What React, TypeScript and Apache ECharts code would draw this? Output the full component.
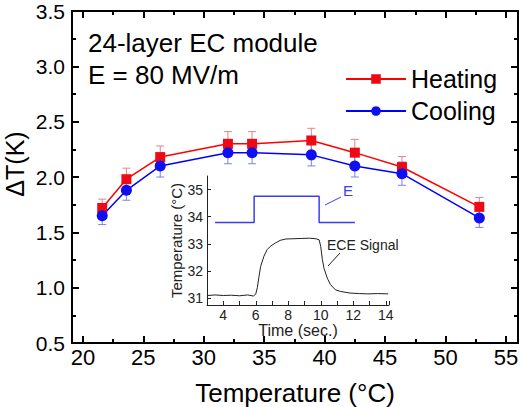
import React, { useEffect, useRef } from 'react';
import * as echarts from 'echarts';

// Main chart data
const temperatures = [21.6, 23.6, 26.4, 32.0, 34.0, 38.9, 42.5, 46.4, 52.8];
const heating = [1.72, 1.98, 2.18, 2.30, 2.30, 2.33, 2.22, 2.09, 1.73];
const heatingErr = [0.08, 0.1, 0.1, 0.11, 0.11, 0.11, 0.12, 0.095, 0.085];
const cooling = [1.65, 1.88, 2.1, 2.22, 2.22, 2.2, 2.1, 2.03, 1.63];
const coolingErr = [0.08, 0.09, 0.1, 0.1, 0.1, 0.1, 0.1, 0.105, 0.085];

// Inset data
const eceTime = [3.05, 3.5, 4.0, 4.5, 5.0, 5.5, 5.85, 6.0, 6.1, 6.2, 6.3, 6.5, 6.7, 6.9, 7.2, 7.5, 7.85, 8.3, 8.8, 9.3, 9.7, 9.9, 10.0, 10.1, 10.2, 10.4, 10.6, 10.9, 11.2, 11.8, 12.4, 12.9, 13.5, 14.15];
const eceTemp = [31.1, 31.12, 31.1, 31.11, 31.09, 31.12, 31.08, 31.15, 31.4, 31.8, 32.17, 32.54, 32.79, 32.91, 33.03, 33.13, 33.18, 33.19, 33.2, 33.21, 33.19, 33.15, 32.9, 32.42, 32.1, 31.74, 31.5, 31.31, 31.25, 31.19, 31.17, 31.16, 31.17, 31.16];
const fieldTime = [3.5, 5.9, 5.9, 9.9, 9.9, 12.1];
const fieldLevel = [33.79, 33.79, 34.75, 34.75, 33.79, 33.79];

const FONT = '"Liberation Sans", Arial, sans-serif';

function errorBarRender(color: string) {
  return (params: any, api: any) => {
    const x = api.value(0);
    const y = api.value(1);
    const e = api.value(2);
    const top = api.coord([x, y + e]);
    const bot = api.coord([x, y - e]);
    const hw = 4;
    const style = { stroke: color, lineWidth: 1 };
    return {
      type: 'group',
      children: [
        { type: 'line', shape: { x1: top[0], y1: top[1], x2: bot[0], y2: bot[1] }, style },
        { type: 'line', shape: { x1: top[0] - hw, y1: top[1], x2: top[0] + hw, y2: top[1] }, style },
        { type: 'line', shape: { x1: bot[0] - hw, y1: bot[1], x2: bot[0] + hw, y2: bot[1] }, style },
      ],
    };
  };
}

export default function App() {
  const ref = useRef<HTMLDivElement>(null);
  useEffect(() => {
    if (!ref.current) return;
    const chart = echarts.init(ref.current, undefined, { renderer: 'svg' });
    const black = '#000';
    const mainAxisCommon = {
      axisLine: { lineStyle: { color: black, width: 2 } },
      axisTick: { inside: true, length: 7, lineStyle: { color: black, width: 2 } },
      minorTick: { show: true, splitNumber: 2, length: 4, lineStyle: { color: black, width: 2 } },
      splitLine: { show: false },
    };
    const insetAxisCommon = {
      axisLine: { lineStyle: { color: '#222', width: 1 } },
      axisTick: { inside: true, length: 4, lineStyle: { color: '#222', width: 1 } },
      splitLine: { show: false },
    };
    const option: any = {
      animation: false,
      backgroundColor: '#fff',
      textStyle: { fontFamily: FONT },
      grid: [
        { left: 72, top: 11, width: 446, height: 332, outerBoundsMode: 'none', containLabel: false },
        { left: 207, top: 176, width: 182, height: 129, outerBoundsMode: 'none', containLabel: false },
      ],
      legend: {
        data: ['Heating', 'Cooling'],
        orient: 'vertical',
        left: 340,
        top: 58,
        itemWidth: 60,
        itemHeight: 12,
        itemGap: 0,
        textStyle: { fontSize: 25, color: black, fontFamily: FONT, lineHeight: 32 },
      },
      xAxis: [
        {
          ...mainAxisCommon,
          gridIndex: 0,
          type: 'value',
          min: 19.1,
          max: 56,
          minInterval: 5,
          maxInterval: 5,
          splitNumber: 8,
          axisLabel: { fontSize: 22, color: black, margin: 3, showMinLabel: false, showMaxLabel: false, fontFamily: FONT },
          name: 'Temperature (°C)',
          nameLocation: 'middle',
          nameGap: 50,
          nameTextStyle: { fontSize: 26, color: black, verticalAlign: 'middle', fontFamily: FONT },
        },
        {
          ...mainAxisCommon,
          gridIndex: 0,
          type: 'value',
          position: 'top',
          min: 19.1,
          max: 56,
          minInterval: 5,
          maxInterval: 5,
          splitNumber: 8,
          axisLabel: { show: false },
        },
        {
          ...insetAxisCommon,
          gridIndex: 1,
          type: 'value',
          min: 3,
          max: 14.2,
          interval: 1,
          axisLabel: {
            fontSize: 14,
            color: '#222',
            margin: 3,
            interval: 0,
            fontFamily: FONT,
            formatter: (v: number) => (Math.abs(v % 2) < 1e-6 ? String(v) : ''),
          },
          name: 'Time (sec.)',
          nameLocation: 'middle',
          nameGap: 22,
          nameTextStyle: { fontSize: 16, color: '#222', verticalAlign: 'middle', fontFamily: FONT },
        },
      ],
      yAxis: [
        {
          ...mainAxisCommon,
          gridIndex: 0,
          type: 'value',
          min: 0.5,
          max: 3.5,
          interval: 0.5,
          axisLabel: { fontSize: 21, lineHeight: 18, color: black, margin: 7, fontFamily: FONT, formatter: (v: number) => v.toFixed(1) },
        },
        {
          ...mainAxisCommon,
          gridIndex: 0,
          type: 'value',
          position: 'right',
          min: 0.5,
          max: 3.5,
          interval: 0.5,
          axisLabel: { show: false },
        },
        {
          ...insetAxisCommon,
          gridIndex: 1,
          type: 'value',
          min: 30.75,
          max: 35.5,
          minInterval: 1,
          maxInterval: 1,
          splitNumber: 5,
          axisLabel: { fontSize: 14, color: '#222', margin: 4, showMinLabel: false, showMaxLabel: false, fontFamily: FONT },
          name: 'Temperature (°C)',
          nameLocation: 'middle',
          nameGap: 27,
          nameTextStyle: { fontSize: 15, color: '#222', verticalAlign: 'middle', fontFamily: FONT },
        },
      ],
      series: [
        {
          name: 'HeatingErr',
          type: 'custom',
          xAxisIndex: 0,
          yAxisIndex: 0,
          z: 1,
          renderItem: errorBarRender('#e8808c'),
          data: temperatures.map((t, i) => [t, heating[i], heatingErr[i]]),
        },
        {
          name: 'CoolingErr',
          type: 'custom',
          xAxisIndex: 0,
          yAxisIndex: 0,
          z: 1,
          renderItem: errorBarRender('#7f7fe6'),
          data: temperatures.map((t, i) => [t, cooling[i], coolingErr[i]]),
        },
        {
          name: 'Heating',
          type: 'line',
          xAxisIndex: 0,
          yAxisIndex: 0,
          z: 3,
          symbol: 'rect',
          symbolSize: 10,
          data: temperatures.map((t, i) => [t, heating[i]]),
          lineStyle: { color: '#ff0000', width: 1.5 },
          itemStyle: { color: '#ee0a14' },
        },
        {
          name: 'Cooling',
          type: 'line',
          xAxisIndex: 0,
          yAxisIndex: 0,
          z: 3,
          symbol: 'circle',
          symbolSize: 11,
          data: temperatures.map((t, i) => [t, cooling[i]]),
          lineStyle: { color: '#0000ff', width: 1.5 },
          itemStyle: { color: '#1010ee' },
        },
        {
          name: 'E field',
          type: 'line',
          xAxisIndex: 2,
          yAxisIndex: 2,
          symbol: 'none',
          data: fieldTime.map((t, i) => [t, fieldLevel[i]]),
          lineStyle: { color: '#3c3cf0', width: 1.5 },
        },
        {
          name: 'ECE Signal',
          type: 'line',
          xAxisIndex: 2,
          yAxisIndex: 2,
          symbol: 'none',
          data: eceTime.map((t, i) => [t, eceTemp[i]]),
          lineStyle: { color: '#222', width: 1 },
        },
      ],
      graphic: [
        {
          type: 'text',
          x: 88,
          y: 43,
          style: { text: '24-layer EC module', font: `26px ${FONT}`, fill: black, align: 'left', verticalAlign: 'middle', textAlign: 'left', textVerticalAlign: 'middle' },
        },
        {
          type: 'text',
          x: 88,
          y: 75,
          style: { text: 'E = 80 MV/m', font: `26px ${FONT}`, fill: black, align: 'left', verticalAlign: 'middle', textAlign: 'left', textVerticalAlign: 'middle' },
        },
        {
          type: 'text',
          x: 15,
          y: 164,
          rotation: Math.PI / 2,
          style: { text: 'ΔT(K)', font: `25px ${FONT}`, fill: black, align: 'center', verticalAlign: 'middle', textAlign: 'center', textVerticalAlign: 'middle' },
        },
        {
          type: 'text',
          x: 348,
          y: 190,
          style: { text: 'E', font: `15px ${FONT}`, fill: '#3c3cf0', align: 'center', verticalAlign: 'middle', textAlign: 'center', textVerticalAlign: 'middle' },
        },
        { type: 'line', shape: { x1: 325, y1: 205, x2: 341, y2: 197 }, style: { stroke: '#3c3cf0', lineWidth: 1 } },
        {
          type: 'text',
          x: 327,
          y: 245,
          style: { text: 'ECE Signal', font: `14px ${FONT}`, fill: '#222', align: 'left', verticalAlign: 'middle', textAlign: 'left', textVerticalAlign: 'middle' },
        },
        { type: 'line', shape: { x1: 340, y1: 253, x2: 328, y2: 266 }, style: { stroke: '#222', lineWidth: 1 } },
      ],
    };
    chart.setOption(option);
    return () => chart.dispose();
  }, []);
  return <div ref={ref} style={{ position: 'fixed', left: 0, top: 0, width: 520, height: 407, background: '#fff' }} />;
}
